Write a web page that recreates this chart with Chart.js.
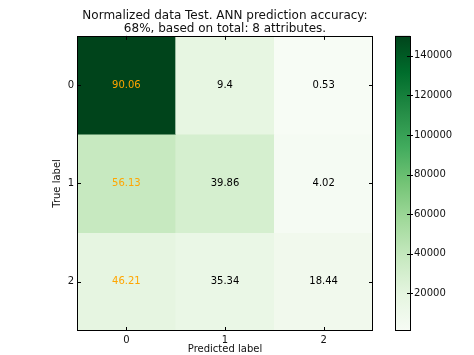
<!DOCTYPE html>
<html><head><meta charset="utf-8">
<script src="https://cdn.jsdelivr.net/npm/chart.js@4"></script>
<style>html,body{margin:0;padding:0;background:#fff;} canvas{display:block}</style>
</head><body>
<canvas id="c" width="474" height="355"></canvas>
<script>
// ---- data ----
const predictedLabels = ['0', '1', '2'];
const trueLabels = ['0', '1', '2'];
// normalized percentages shown in the cells (row = true label)
const pctRow0 = [90.06, 9.4, 0.53];
const pctRow1 = [56.13, 39.86, 4.02];
const pctRow2 = [46.21, 35.34, 18.44];
// estimated raw counts that drive the cell colours
const countRow0 = [150100, 17500, 880];
const countRow1 = [38200, 29500, 2740];
const countRow2 = [19000, 14530, 7580];
const colorbarTicks = [20000, 40000, 60000, 80000, 100000, 120000, 140000];
const titleLines = ['Normalized data Test. ANN prediction accuracy:', '68%, based on total: 8 attributes.'];

// ---- styling helpers ----
const FONT = "'DejaVu Sans', sans-serif";
const GREENS = ['#f7fcf5','#e5f5e0','#c7e9c0','#a1d99b','#74c476','#41ab5d','#238b45','#006d2c','#00441b'];
function hexRgb(h){ return [1,3,5].map(i => parseInt(h.substr(i,2),16)); }
function greens(t){
  t = Math.max(0, Math.min(1, t));
  const s = t * (GREENS.length - 1);
  const i = Math.min(Math.floor(s), GREENS.length - 2);
  const f = s - i;
  const a = hexRgb(GREENS[i]), b = hexRgb(GREENS[i+1]);
  const c = a.map((v,k) => Math.round(v + (b[k]-v)*f));
  return 'rgb(' + c.join(',') + ')';
}

const pctRows = [pctRow0, pctRow1, pctRow2];
const countRows = [countRow0, countRow1, countRow2];
const allCounts = countRows.flat();
const cmin = Math.min(...allCounts), cmax = Math.max(...allCounts);
const pctMax = Math.max(...pctRows.flat());

const datasets = trueLabels.map((lab, r) => ({
  label: 'True ' + lab,
  data: predictedLabels.map(() => [r - 0.5, r + 0.5]),
  pct: pctRows[r],
  backgroundColor: countRows[r].map(v => greens((v - cmin) / (cmax - cmin))),
  borderWidth: 0,
  barPercentage: 1,
  categoryPercentage: 1,
  grouped: false
}));

const cellText = {
  id: 'cellText',
  afterDatasetsDraw(chart){
    const ctx = chart.ctx;
    ctx.save();
    ctx.font = '10px ' + FONT;
    ctx.textAlign = 'center';
    ctx.textBaseline = 'middle';
    chart.data.datasets.forEach((ds, r) => {
      chart.getDatasetMeta(r).data.forEach((el, c) => {
        const v = ds.pct[c];
        ctx.fillStyle = v > pctMax / 2 ? '#ffa500' : '#000';
        ctx.fillText(String(v), el.x, (el.y + el.base) / 2);
      });
    });
    ctx.restore();
  }
};

const frame = {
  id: 'frame',
  afterDraw(chart){
    const {ctx, chartArea: a, scales} = chart;
    ctx.save();
    ctx.strokeStyle = '#000';
    ctx.lineWidth = 1;
    ctx.strokeRect(Math.round(a.left)+0.5, Math.round(a.top)+0.5, Math.round(a.right-a.left)-1, Math.round(a.bottom-a.top)-1);
    const L = 4;
    ctx.beginPath();
    scales.x.ticks.forEach((t, i) => {
      const px = Math.round(scales.x.getPixelForTick(i)) + 0.5;
      ctx.moveTo(px, a.top); ctx.lineTo(px, a.top + L);
      ctx.moveTo(px, a.bottom); ctx.lineTo(px, a.bottom - L);
    });
    scales.y.ticks.forEach((t) => {
      const py = Math.round(scales.y.getPixelForValue(t.value)) + 0.5;
      ctx.moveTo(a.left, py); ctx.lineTo(a.left + L, py);
      ctx.moveTo(a.right, py); ctx.lineTo(a.right - L, py);
    });
    ctx.stroke();

    // colour bar
    const cb = scales.cb;
    const x0 = Math.round(cb.left + 22), w = 15;
    const yTop = cb.getPixelForValue(cmax), yBot = cb.getPixelForValue(cmin);
    const g = ctx.createLinearGradient(0, yBot, 0, yTop);
    GREENS.forEach((col, i) => g.addColorStop(i / (GREENS.length - 1), col));
    ctx.fillStyle = g;
    ctx.fillRect(x0, yTop, w, yBot - yTop);
    ctx.strokeRect(x0 + 0.5, Math.round(yTop) + 0.5, w, Math.round(yBot - yTop) - 1);
    ctx.beginPath();
    colorbarTicks.forEach(v => {
      const py = Math.round(cb.getPixelForValue(v)) + 0.5;
      ctx.moveTo(x0 + w - 3, py); ctx.lineTo(x0 + w + 3, py);
    });
    ctx.stroke();
    ctx.restore();
  }
};

function noPad(s){ s.paddingTop = 0; s.paddingBottom = 0; }

new Chart(document.getElementById('c'), {
  type: 'bar',
  data: { labels: predictedLabels, datasets },
  options: {
    responsive: false,
    animation: false,
    devicePixelRatio: 1,
    layout: { padding: 0 },
    plugins: {
      legend: { display: false },
      tooltip: { enabled: false },
      title: {
        display: true,
        text: titleLines,
        fullSize: false,
        color: '#111',
        font: { family: FONT, size: 12, weight: 'normal', lineHeight: 1.12 },
        padding: { top: 9, bottom: 0 }
      }
    },
    scales: {
      x: {
        type: 'category',
        offset: true,
        grid: { display: false, drawTicks: false },
        border: { display: false },
        ticks: { color: '#111', font: { family: FONT, size: 10 }, padding: 3, maxRotation: 0 },
        title: { display: true, text: 'Predicted label', color: '#111', font: { family: FONT, size: 10 }, padding: { top: 0, bottom: 0 } },
        afterFit(s){ s.height = 24; s.paddingLeft = 0; s.paddingRight = 0; }
      },
      y: {
        type: 'linear',
        reverse: true,
        min: -0.5,
        max: 2.5,
        afterBuildTicks(s){ s.ticks = trueLabels.map((_, i) => ({ value: i })); },
        grid: { display: false, drawTicks: false },
        border: { display: false },
        ticks: { color: '#111', font: { family: FONT, size: 10 }, padding: 3, callback: v => trueLabels[v] },
        title: { display: true, text: 'True label', color: '#111', font: { family: FONT, size: 10 }, padding: { top: 51, bottom: 0 } },
        afterFit(s){ s.width = 77; noPad(s); }
      },
      cb: {
        axis: 'y',
        type: 'linear',
        position: 'right',
        min: cmin,
        max: cmax,
        afterBuildTicks(s){ s.ticks = colorbarTicks.map(v => ({ value: v })); },
        grid: { display: false, drawTicks: false },
        border: { display: false },
        ticks: { color: '#111', font: { family: FONT, size: 10 }, padding: 41, callback: v => String(v) },
        afterFit(s){ s.width = 101; noPad(s); }
      }
    }
  },
  plugins: [cellText, frame]
});
</script>
</body></html>
